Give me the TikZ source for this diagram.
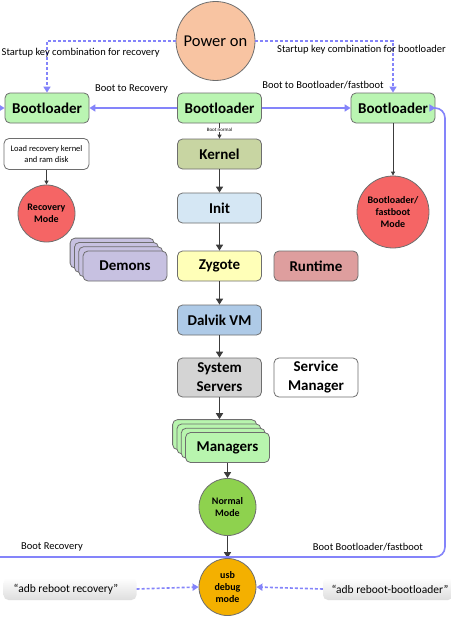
\documentclass[tikz,border=0pt]{standalone}
\usepackage{fontspec}
\setmainfont{Carlito}
\usetikzlibrary{arrows.meta,shapes.geometric}
\definecolor{boxborder}{HTML}{6E6E6E}
\definecolor{arrowgray}{HTML}{3C3C3C}
\definecolor{bluel}{HTML}{8484FA}
\definecolor{peach}{HTML}{F8C4A2}
\definecolor{bootgreen}{HTML}{BAF5B2}
\definecolor{kernelc}{HTML}{C8D5A2}
\definecolor{initc}{HTML}{D5E7F4}
\definecolor{zygotec}{HTML}{FFFFB8}
\definecolor{runtimec}{HTML}{DE9E9E}
\definecolor{demonsc}{HTML}{C7C1E1}
\definecolor{dalvikc}{HTML}{AECAE7}
\definecolor{sysc}{HTML}{D4D4D4}
\definecolor{mgrc}{HTML}{B8F5AE}
\definecolor{redc}{HTML}{F56565}
\definecolor{normalc}{HTML}{8ED24E}
\definecolor{usbc}{HTML}{F4B000}
\begin{document}
\begin{tikzpicture}[x=1pt,y=-1pt,
  box/.style={draw=boxborder, line width=0.8pt, rounded corners=5pt,
    minimum width=84pt, minimum height=30pt, inner sep=1pt, align=center,
    font=\bfseries\fontsize{15}{19}\selectfont},
  circ/.style={circle, draw=boxborder, line width=0.8pt, inner sep=0pt, align=center,
    font=\bfseries\fontsize{10}{12}\selectfont},
  flow/.style={draw=arrowgray, line width=1.5pt, -{Triangle[length=6pt,width=7pt]}},
  thinflow/.style={draw=arrowgray, line width=0.8pt, -{Triangle[length=4pt,width=4pt]}},
  blueflow/.style={draw=bluel, line width=1.6pt, -{Triangle[length=6pt,width=7pt]}},
  bluedash/.style={blueflow, dash pattern=on 3pt off 2pt},
  lbl/.style={font=\fontsize{10.5}{12}\selectfont, inner sep=1pt},
  adbbox/.style={rounded corners=5pt, top color=white, bottom color=black!13,
    minimum height=22pt, font=\fontsize{11.5}{13}\selectfont, inner sep=1pt}
]
\useasboundingbox (0,0) rectangle (450,618);
\fill[white] (0,0) rectangle (450,618);

% power on
\node[circ, fill=peach, minimum size=79pt, font=\fontsize{16.5}{19}\selectfont] (power) at (215.5,41) {Power on};

% bootloaders
\node[box, fill=bootgreen] (bl) at (47,108) {Bootloader};
\node[box, fill=bootgreen] (bc) at (219.5,108) {Bootloader};
\node[box, fill=bootgreen] (br) at (393,108) {Bootloader};

% central chain
\node[box, fill=kernelc] (kernel) at (219.5,154) {Kernel};
\node[box, fill=initc] (init) at (219.5,208) {Init};
\node[box, fill=zygotec] (zygote) at (219.5,266) {Zygote};
\node[box, fill=runtimec] (runtime) at (316,266) {Runtime};
\node[box, fill=demonsc] (demC) at (112.1,253.1) {};
\node[box, fill=demonsc] (demB) at (116.4,257.4) {};
\node[box, fill=demonsc] (demA) at (120.7,261.7) {};
\node[box, fill=demonsc] (demons) at (125,266) {Demons};
\node[box, fill=dalvikc] (dalvik) at (219.5,320) {Dalvik VM};
\node[box, fill=sysc, minimum height=39pt] (sys) at (219.5,377.5) {System\\Servers};
\node[box, fill=white, minimum height=39pt] (svc) at (316,377.5) {Service\\Manager};
\node[box, fill=mgrc] (mgrC) at (214.6,434.6) {};
\node[box, fill=mgrc] (mgrB) at (218.9,438.9) {};
\node[box, fill=mgrc] (mgrA) at (223.2,443.2) {};
\node[box, fill=mgrc] (mgr) at (227.5,447.5) {Managers};

% left side
\node[box, fill=white, minimum width=85pt, minimum height=31pt,
  font=\fontsize{8.5}{10.5}\selectfont] (load) at (46.5,154) {Load recovery kernel\\and ram disk};
\node[circ, fill=redc, minimum size=57pt] (rec) at (46.5,213.5) {Recovery\\Mode};

% right side
\node[circ, fill=redc, minimum size=72pt] (fast) at (393,212) {Bootloader/\\fastboot\\Mode};

% modes
\node[circ, fill=normalc, minimum size=57pt] (normal) at (227.5,507) {Normal\\Mode};
\node[circ, fill=usbc, minimum size=57pt] (usb) at (227.5,587) {usb\\debug\\mode};

% adb boxes
\node[adbbox, minimum width=133pt] (adbr) at (70,589) {“adb reboot recovery”\hspace*{8pt}};
\node[adbbox, minimum width=130pt] (adbb) at (388,589) {\hspace*{4pt}“adb reboot-bootloader”};

% dashed startup arrows
\draw[bluedash] (power.west) -| (bl.north);
\draw[bluedash] (power.east) -| (br.north);
\node[lbl, anchor=west] (lstart) at (0.5,53) {Startup key combination for recovery};
\node[lbl] (rstart) at (361.5,50) {Startup key combination for bootloader};

% boot to arrows
\draw[blueflow] (bc.west) -- (bl.east);
\draw[blueflow] (bc.east) -- (br.west);
\node[lbl] (btr) at (131.5,89) {Boot to Recovery};
\node[lbl] (btb) at (323,85) {Boot to Bootloader/fastboot};

% boot normal
\draw[thinflow] (bc.south) -- (kernel.north);
\node[fill=white, inner sep=0.5pt, font=\fontsize{5}{6}\selectfont] (bn) at (219.5,130) {Boot normal};

% chain arrows
\draw[flow] (kernel) -- (init);
\draw[flow] (init) -- (zygote);
\draw[flow] (zygote) -- (dalvik);
\draw[flow] (dalvik) -- (sys);
\draw[flow] (sys.south) -- (sys.south |- mgrC.north);
\draw[flow] (mgr.south) -- (normal.north);
\draw[flow] (normal.south) -- (usb.north);
\draw[thinflow] (load) -- (rec);
\draw[thinflow] (br) -- (fast);

% blue loop
\coordinate (loopL) at (-10,557);
\coordinate (loopR) at (445,557);
\coordinate (inL) at (-10,108);
\draw[blueflow, rounded corners=10pt] (loopL) -- (loopR) -- (445,108) -- (br.east);
\draw[blueflow] (inL) -- (bl.west);
\node[lbl] (bootrec) at (52,547) {Boot Recovery};
\node[lbl] (bootbl) at (368,547) {Boot Bootloader/fastboot};

% adb arrows
\draw[bluedash] (adbr.east) -- (usb.west);
\draw[bluedash] (adbb.west) -- (usb.east);
\end{tikzpicture}
\end{document}
